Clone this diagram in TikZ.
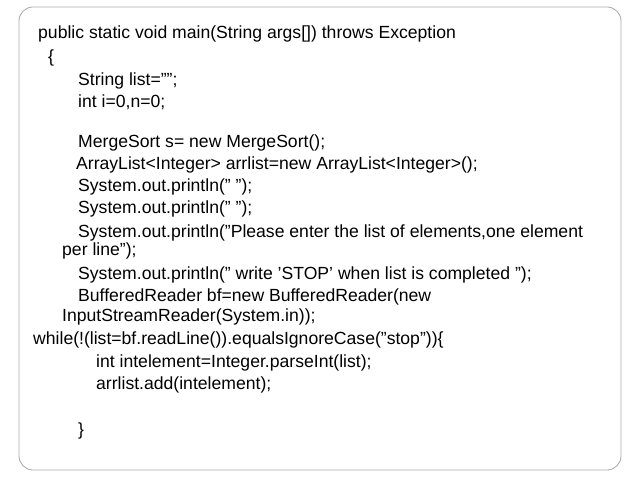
\documentclass[tikz,border=0pt]{standalone}
\usepackage{fontspec}
\setmainfont{Liberation Sans}
\begin{document}
\begin{tikzpicture}[x=1pt,y=-1pt,
  ln/.style={anchor=base west,inner sep=0pt,font=\fontsize{17.6}{20}\selectfont}]
\useasboundingbox (0,0) rectangle (638,478);
\draw[gray!70,line width=0.8pt,rounded corners=14pt] (19,7) rectangle (621,470);
\node[ln] (l1) at (38,39) {public static void main(String args[]) throws Exception};
\node[ln] (l2) at (48,63) {\{};
\node[ln] (l3) at (78,86) {String list="";};
\node[ln] (l4) at (78,108) {int i=0,n=0;};
\node[ln] (l5) at (78,148) {MergeSort s= new MergeSort();};
\node[ln] (l6) at (76,170) {ArrayList<Integer> arrlist=new ArrayList<Integer>();};
\node[ln] (l7) at (78,192) {System.out.println(" ");};
\node[ln] (l8) at (78,214) {System.out.println(" ");};
\node[ln] (l9) at (78,238) {System.out.println("Please enter the list of elements,one element};
\node[ln] (l10) at (62,256) {per line");};
\node[ln] (l11) at (78,280) {System.out.println(" write 'STOP' when list is completed ");};
\node[ln] (l12) at (78,302) {BufferedReader bf=new BufferedReader(new};
\node[ln] (l13) at (62,322) {InputStreamReader(System.in));};
\node[ln] (l14) at (33,345) {while(!(list=bf.readLine()).equalsIgnoreCase("stop"))\{};
\node[ln] (l15) at (96,368) {int intelement=Integer.parseInt(list);};
\node[ln] (l16) at (96,390) {arrlist.add(intelement);};
\node[ln] (l17) at (78,436) {\}};
\end{tikzpicture}
\end{document}
